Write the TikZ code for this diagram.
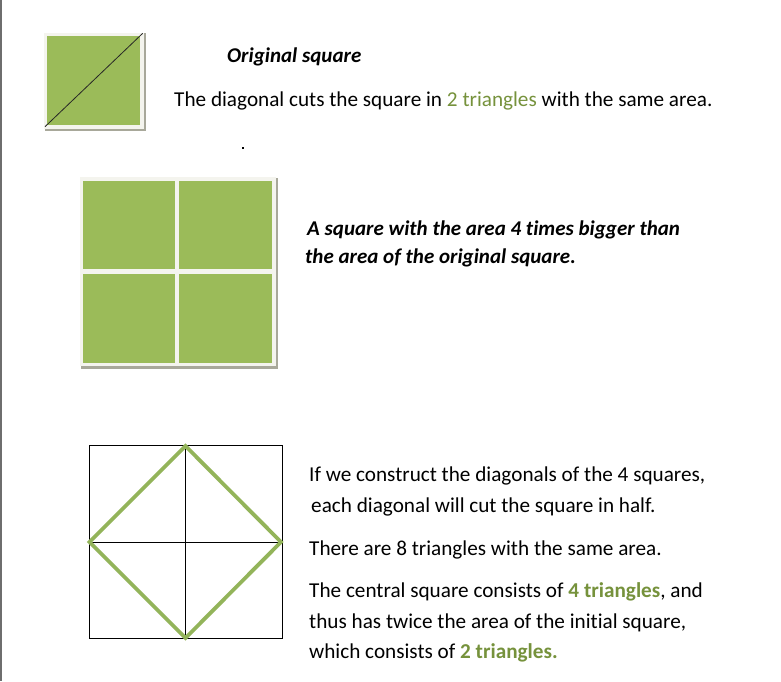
\documentclass[tikz,border=0pt]{standalone}
\usepackage{fontspec}
\setmainfont[Ligatures=NoCommon]{Carlito}
\definecolor{fillgreen}{HTML}{9BBB59}
\definecolor{textgreen}{HTML}{76923C}
\definecolor{diagreen}{HTML}{93B45A}
\definecolor{framecol}{HTML}{F4F4EE}
\definecolor{shadowcol}{HTML}{A8A89A}
\definecolor{edgegray}{HTML}{6E6E6E}
\begin{document}
\begin{tikzpicture}[x=1pt,y=-1pt,
  txt/.style={anchor=base west,inner sep=0pt,font=\fontsize{21.2}{25}\selectfont},
  btxt/.style={txt,font=\fontsize{21}{25}\selectfont\bfseries\itshape},
  grn/.style={text=textgreen}]
\useasboundingbox (0,0) rectangle (781,681);
\fill[white] (0,0) rectangle (781,681);
\fill[edgegray] (0,0) rectangle (2,681);
% original square
\fill[shadowcol] (45,33) rectangle (145.5,131);
\fill[framecol] (43.5,32.5) rectangle (143.5,128.5);
\fill[fillgreen] (46.7,35.7) rectangle (140,125);
\draw[black!85,line width=0.8pt] (45,126.7) -- (142.7,33.3);
\node[btxt] (t1) at (227,62) {Original square};
\node[txt] (t2) at (174,106) {The diagonal cuts the square in \textcolor{textgreen}{2 triangles} with the same area.};
\fill[black] (242.3,146.7) rectangle (244.3,148.7);
% 2x2 squares
\fill[shadowcol] (81,178) rectangle (277.5,368.5);
\fill[framecol] (80,176.7) rectangle (275.5,365.5);
\fill[fillgreen] (82.7,180.7) rectangle (175,269.3);
\fill[fillgreen] (179,180.7) rectangle (272.3,269.3);
\fill[fillgreen] (82.7,274) rectangle (175,362.7);
\fill[fillgreen] (179,274) rectangle (272.3,362.7);
\node[btxt] (t3) at (307,235) {A square with the area 4 times bigger than};
\node[btxt] (t4) at (305,263.3) {the area of the original square.};
% bottom grid
\draw[black,line width=1pt] (89,445.7) rectangle (282,638.3);
\draw[black,line width=1pt] (185.5,445.7) -- (185.5,638.3);
\draw[black,line width=1pt] (89,542) -- (282,542);
\draw[diagreen,line width=3.8pt,line join=miter] (185.5,446) -- (281,542) -- (185.5,638) -- (89.5,542) -- cycle;
\node[txt] (b1) at (309,481.7) {If we construct the diagonals of the 4 squares,};
\node[txt] (b2) at (311,512.3) {each diagonal will cut the square in half.};
\node[txt] (b3) at (309,555) {There are 8 triangles with the same area.};
\node[txt] (b4) at (309,597.7) {The central square consists of \textcolor{textgreen}{\bfseries 4 triangles}, and};
\node[txt] (b5) at (309,628.3) {thus has twice the area of the initial square,};
\node[txt] (b6) at (309,658.3) {which consists of \textcolor{textgreen}{\bfseries 2 triangles.}};
\end{tikzpicture}
\end{document}
